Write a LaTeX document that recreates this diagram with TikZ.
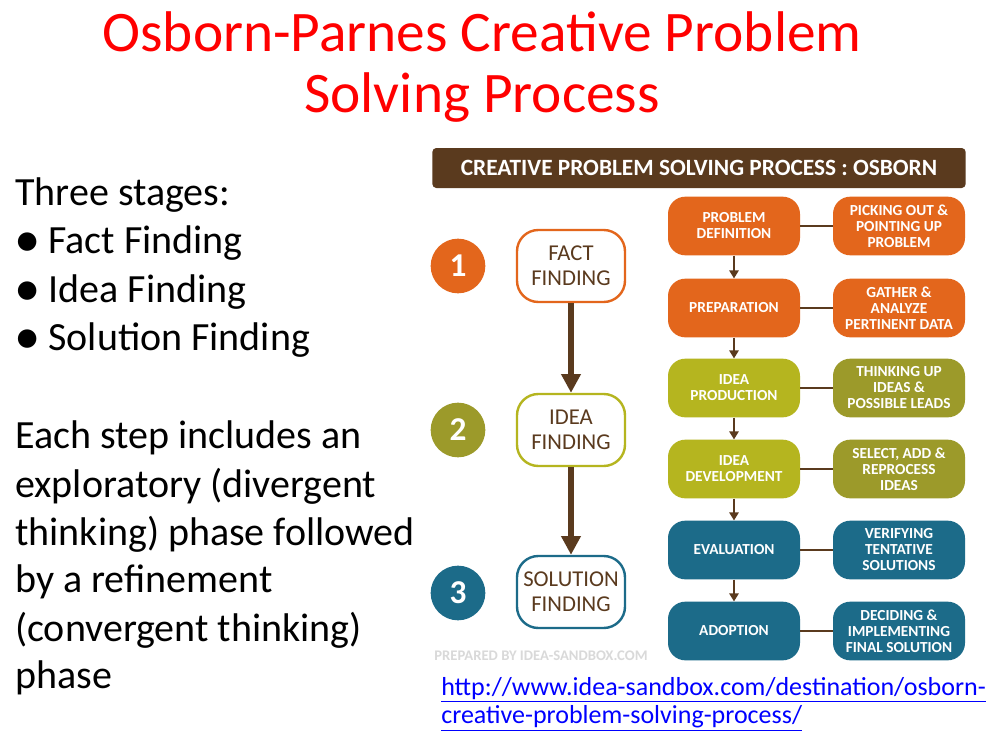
\documentclass[tikz,border=0pt]{standalone}
\usepackage{fontspec}
\setmainfont{Carlito}
\newfontfamily\dfont{Carlito}
\usetikzlibrary{arrows.meta}
\definecolor{brn}{HTML}{5A3A1E}
\definecolor{org}{HTML}{E3661C}
\definecolor{lime}{HTML}{B5B51F}
\definecolor{oliv}{HTML}{9C9A2A}
\definecolor{teal}{HTML}{1C6B89}
\definecolor{ttl}{HTML}{FF0000}
\tikzset{
  pbox/.style={rounded corners=13pt,minimum width=99pt,minimum height=44pt,align=center,text=white,font=\dfont\bfseries\fontsize{11.5}{12}\selectfont,inner sep=1pt},
  stbox/.style={draw,line width=1.8pt,fill=white,rounded corners=16pt,minimum width=81pt,minimum height=54pt,align=center,text=brn,font=\dfont\fontsize{17}{19}\selectfont},
  num/.style={circle,minimum size=41pt,text=white,font=\dfont\bfseries\fontsize{25}{25}\selectfont},
  lt/.style={anchor=west,font=\fontsize{30}{34}\selectfont,inner sep=0pt},
  link/.style={draw=brn,line width=1.3pt},
  sarr/.style={draw=brn,line width=1.3pt,-{Triangle[length=6pt,width=7pt]}},
  barr/.style={draw=brn,line width=4pt,-{Triangle[length=14pt,width=14pt]}}
}
\begin{document}
\begin{tikzpicture}[x=0.75pt,y=-0.75pt]
\useasboundingbox (0,0) rectangle (1000,742);
\fill[white] (0,0) rectangle (1000,742);
\node[text=ttl,font=\fontsize{43}{46}\selectfont] (t1) at (482,32) {Osborn-Parnes Creative Problem};
\node[text=ttl,font=\fontsize{43}{46}\selectfont] (t2) at (482,98) {Solving Process};
\node[lt] (l1) at (15,195) {Three stages:};
\node[lt] (l2) at (15,243) {● Fact Finding};
\node[lt] (l3) at (15,292) {● Idea Finding};
\node[lt] (l4) at (15,340) {● Solution Finding};
\node[lt] (l5) at (15,438) {Each step includes an};
\node[lt] (l6) at (15,486) {exploratory (divergent};
\node[lt] (l7) at (15,534) {thinking) phase followed};
\node[lt] (l8) at (15,582) {by a refinement};
\node[lt] (l9) at (15,630) {(convergent thinking)};
\node[lt] (l10) at (15,678) {phase};
\node[fill=brn,rounded corners=3pt,minimum width=400pt,minimum height=30pt,text=white,font=\dfont\bfseries\fontsize{17.5}{17.5}\selectfont] (ban) at (699,168) {CREATIVE PROBLEM SOLVING PROCESS : OSBORN};
\node[num,fill=org] (n1) at (458,266) {1};
\node[num,fill=oliv] (n2) at (458,430) {2};
\node[num,fill=teal] (n3) at (458,593) {3};
\node[stbox,draw=org] (s1) at (571,266) {FACT\\FINDING};
\node[stbox,draw=lime] (s2) at (571,430) {IDEA\\FINDING};
\node[stbox,draw=teal] (s3) at (571,592) {SOLUTION\\FINDING};
\draw[barr] (s1) -- (s2);
\draw[barr] (s2) -- (s3);
\node[pbox,fill=org] (p1) at (734,226) {PROBLEM\\DEFINITION};
\node[pbox,fill=org] (p2) at (734,308) {PREPARATION};
\node[pbox,fill=lime] (p3) at (734,388) {IDEA\\PRODUCTION};
\node[pbox,fill=lime] (p4) at (734,469) {IDEA\\DEVELOPMENT};
\node[pbox,fill=teal] (p5) at (734,550) {EVALUATION};
\node[pbox,fill=teal] (p6) at (734,631) {ADOPTION};
\node[pbox,fill=org] (r1) at (899,226) {PICKING OUT \&\\POINTING UP\\PROBLEM};
\node[pbox,fill=org] (r2) at (899,308) {GATHER \&\\ANALYZE\\PERTINENT DATA};
\node[pbox,fill=oliv] (r3) at (899,388) {THINKING UP\\IDEAS \&\\POSSIBLE LEADS};
\node[pbox,fill=oliv] (r4) at (899,469) {SELECT, ADD \&\\REPROCESS\\IDEAS};
\node[pbox,fill=teal] (r5) at (899,550) {VERIFYING\\TENTATIVE\\SOLUTIONS};
\node[pbox,fill=teal] (r6) at (899,631) {DECIDING \&\\IMPLEMENTING\\FINAL SOLUTION};
\foreach \i in {1,...,6}{\draw[link] (p\i) -- (r\i);}
\draw[sarr] (p1) -- (p2);
\draw[sarr] (p2) -- (p3);
\draw[sarr] (p3) -- (p4);
\draw[sarr] (p4) -- (p5);
\draw[sarr] (p5) -- (p6);
\node[text=black!15,font=\dfont\bfseries\fontsize{11}{11}\selectfont] (pb) at (541,656) {PREPARED BY IDEA-SANDBOX.COM};
\node[anchor=west,inner sep=0pt,text=blue,font=\fontsize{19.5}{22}\selectfont] (u1) at (441,690) {\underline{http://www.idea-sandbox.com/destination/osborn-}};
\node[anchor=west,inner sep=0pt,text=blue,font=\fontsize{19.5}{22}\selectfont] (u2) at (441,718) {\underline{creative-problem-solving-process/}};
\end{tikzpicture}
\end{document}
